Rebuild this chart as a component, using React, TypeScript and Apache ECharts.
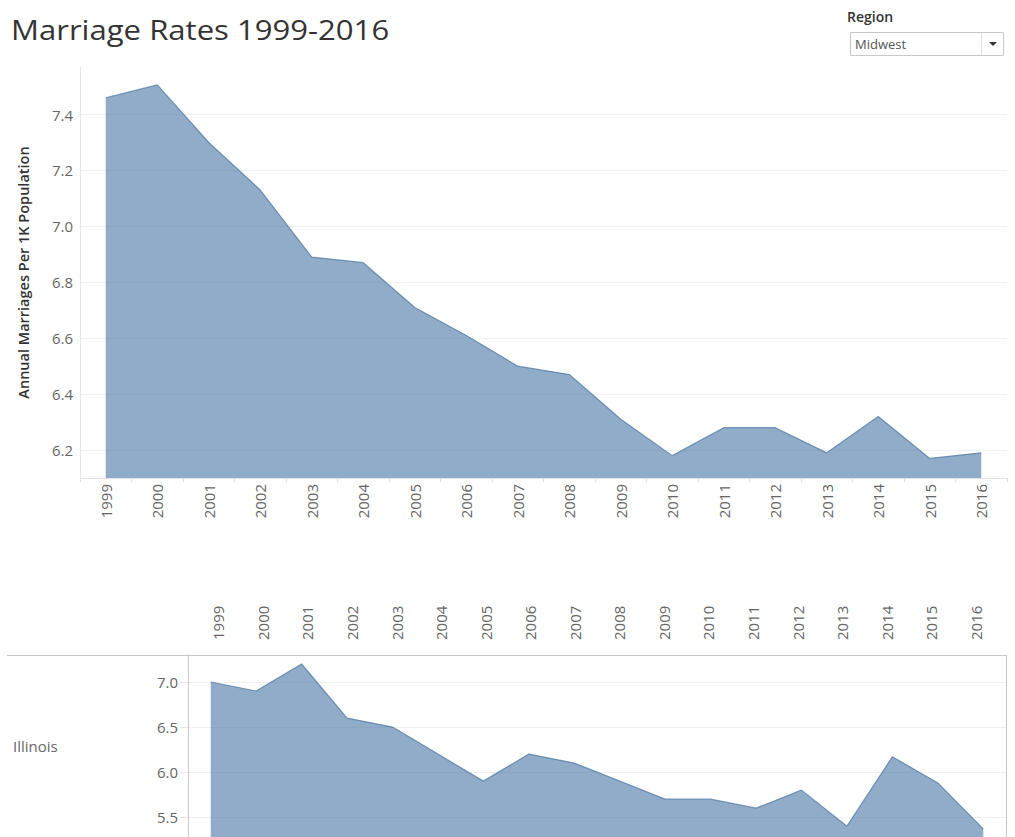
import React, { useEffect, useRef } from "react";
import * as echarts from "echarts";

// Years shown along both panels
const years = [
  "1999", "2000", "2001", "2002", "2003", "2004", "2005", "2006", "2007",
  "2008", "2009", "2010", "2011", "2012", "2013", "2014", "2015", "2016",
];

// Midwest region: annual marriages per 1K population
const midwestRates = [
  7.46, 7.506, 7.3, 7.13, 6.89, 6.87, 6.71, 6.61, 6.5,
  6.47, 6.31, 6.18, 6.28, 6.28, 6.19, 6.32, 6.17, 6.19,
];

// Illinois: annual marriages per 1K population
const illinoisRates = [
  7.0, 6.9, 7.2, 6.6, 6.5, 6.2, 5.9, 6.2, 6.1,
  5.9, 5.7, 5.7, 5.6, 5.8, 5.4, 6.17, 5.88, 5.37,
];

const FONT = "'Open Sans', 'Noto Sans', sans-serif";
const AREA_BLUE = "#4e79a7";

export default function App() {
  const ref = useRef<HTMLDivElement>(null);

  useEffect(() => {
    if (!ref.current) return;
    const chart = echarts.init(ref.current, undefined, { renderer: "svg" });

    const labelStyle = { color: "#666", fontSize: 15, fontFamily: FONT };

    chart.setOption({
      animation: false,
      backgroundColor: "#fff",
      grid: [
        // Midwest panel
        { left: 80, right: 8, top: 67, height: 411 },
        // Illinois panel
        { left: 188, right: 9, top: 655, bottom: 0 },
        // column header strip above the Illinois panel
        { left: 196, right: 17, top: 655, height: 1 },
      ],
      xAxis: [
        {
          type: "category",
          gridIndex: 0,
          data: years,
          boundaryGap: true,
          axisLine: { show: true, lineStyle: { color: "#e2e2e2", width: 1 } },
          axisTick: { show: true, length: 4, lineStyle: { color: "#e2e2e2" } },
          axisLabel: { ...labelStyle, rotate: 90, margin: 6 },
          splitLine: { show: false },
        },
        {
          type: "category",
          gridIndex: 1,
          position: "top",
          data: years,
          boundaryGap: true,
          axisLine: { show: false },
          axisTick: { show: false },
          axisLabel: { show: false },
          splitLine: { show: false },
        },
        {
          type: "category",
          gridIndex: 2,
          position: "top",
          data: years,
          boundaryGap: true,
          axisLine: { show: false },
          axisTick: { show: false },
          axisLabel: { ...labelStyle, rotate: 90, margin: 15 },
          splitLine: { show: false },
        },
      ],
      yAxis: [
        {
          type: "value",
          gridIndex: 0,
          min: 6.1,
          max: 7.57,
          splitNumber: 7,
          name: "Annual Marriages Per 1K Population",
          nameLocation: "middle",
          nameGap: 49,
          nameTextStyle: {
            color: "#333",
            fontSize: 14.5,
            fontWeight: 600,
            fontFamily: FONT,
          },
          axisLine: { show: true, lineStyle: { color: "#e6e6e6" } },
          axisTick: { show: false },
          axisLabel: {
            ...labelStyle,
            margin: 7,
            showMinLabel: false,
            showMaxLabel: false,
            formatter: (v: number) => v.toFixed(1),
          },
          splitLine: {
            show: true,
            showMinLine: false,
            showMaxLine: false,
            lineStyle: { color: "#f0f0f0" },
          },
        },
        {
          type: "value",
          gridIndex: 1,
          min: 5.28,
          max: 7.3,
          splitNumber: 4,
          axisLine: { show: true, lineStyle: { color: "#c8c8c8" } },
          axisTick: { show: true, length: 8, lineStyle: { color: "#e6e6e6" } },
          axisLabel: {
            ...labelStyle,
            margin: 10,
            showMinLabel: false,
            showMaxLabel: false,
            formatter: (v: number) => v.toFixed(1),
          },
          splitLine: {
            show: true,
            showMinLine: false,
            showMaxLine: false,
            lineStyle: { color: "#f0f0f0" },
          },
        },
        {
          type: "value",
          gridIndex: 2,
          show: false,
        },
      ],
      series: [
        {
          type: "line",
          xAxisIndex: 0,
          yAxisIndex: 0,
          data: midwestRates,
          symbol: "none",
          silent: true,
          lineStyle: { color: AREA_BLUE, width: 1.2, opacity: 0.75 },
          areaStyle: { color: AREA_BLUE, opacity: 0.62 },
        },
        {
          type: "line",
          xAxisIndex: 1,
          yAxisIndex: 1,
          data: illinoisRates,
          symbol: "none",
          silent: true,
          lineStyle: { color: AREA_BLUE, width: 1.2, opacity: 0.75 },
          areaStyle: { color: AREA_BLUE, opacity: 0.62 },
        },
      ],
      graphic: [
        {
          type: "text",
          x: 11,
          y: 15,
          scaleX: 1.11,
          style: {
            text: "Marriage Rates 1999-2016",
            fill: "#333",
            fontSize: 28,
            fontFamily: FONT,
            verticalAlign: "top",
          },
        },
        {
          type: "text",
          left: 847,
          top: 9,
          style: {
            text: "Region",
            fill: "#333",
            fontSize: 14,
            fontWeight: 600,
            fontFamily: FONT,
          },
        },
        {
          type: "rect",
          shape: { x: 850.5, y: 32.5, width: 153, height: 23 },
          style: { fill: "#fff", stroke: "#c8c8c8", lineWidth: 1 },
        },
        {
          type: "line",
          shape: { x1: 981.5, y1: 33, x2: 981.5, y2: 55 },
          style: { stroke: "#e0e0e0", lineWidth: 1 },
        },
        {
          type: "polygon",
          shape: { points: [[989, 42], [997, 42], [993, 46]] },
          style: { fill: "#333" },
        },
        {
          type: "text",
          left: 855,
          top: 37,
          style: {
            text: "Midwest",
            fill: "#555",
            fontSize: 13,
            fontFamily: FONT,
          },
        },
        {
          type: "line",
          shape: { x1: 7, y1: 655.5, x2: 1006.5, y2: 655.5 },
          style: { stroke: "#c8c8c8", lineWidth: 1 },
        },
        {
          type: "line",
          shape: { x1: 1006.5, y1: 655, x2: 1006.5, y2: 837 },
          style: { stroke: "#c8c8c8", lineWidth: 1 },
        },
        {
          type: "text",
          left: 13,
          top: 738,
          style: {
            text: "Illinois",
            fill: "#666",
            fontSize: 15,
            fontFamily: FONT,
          },
        },
      ],
    });

    return () => chart.dispose();
  }, []);

  return (
    <div
      ref={ref}
      style={{ position: "fixed", left: 0, top: 0, width: 1015, height: 837 }}
    />
  );
}
